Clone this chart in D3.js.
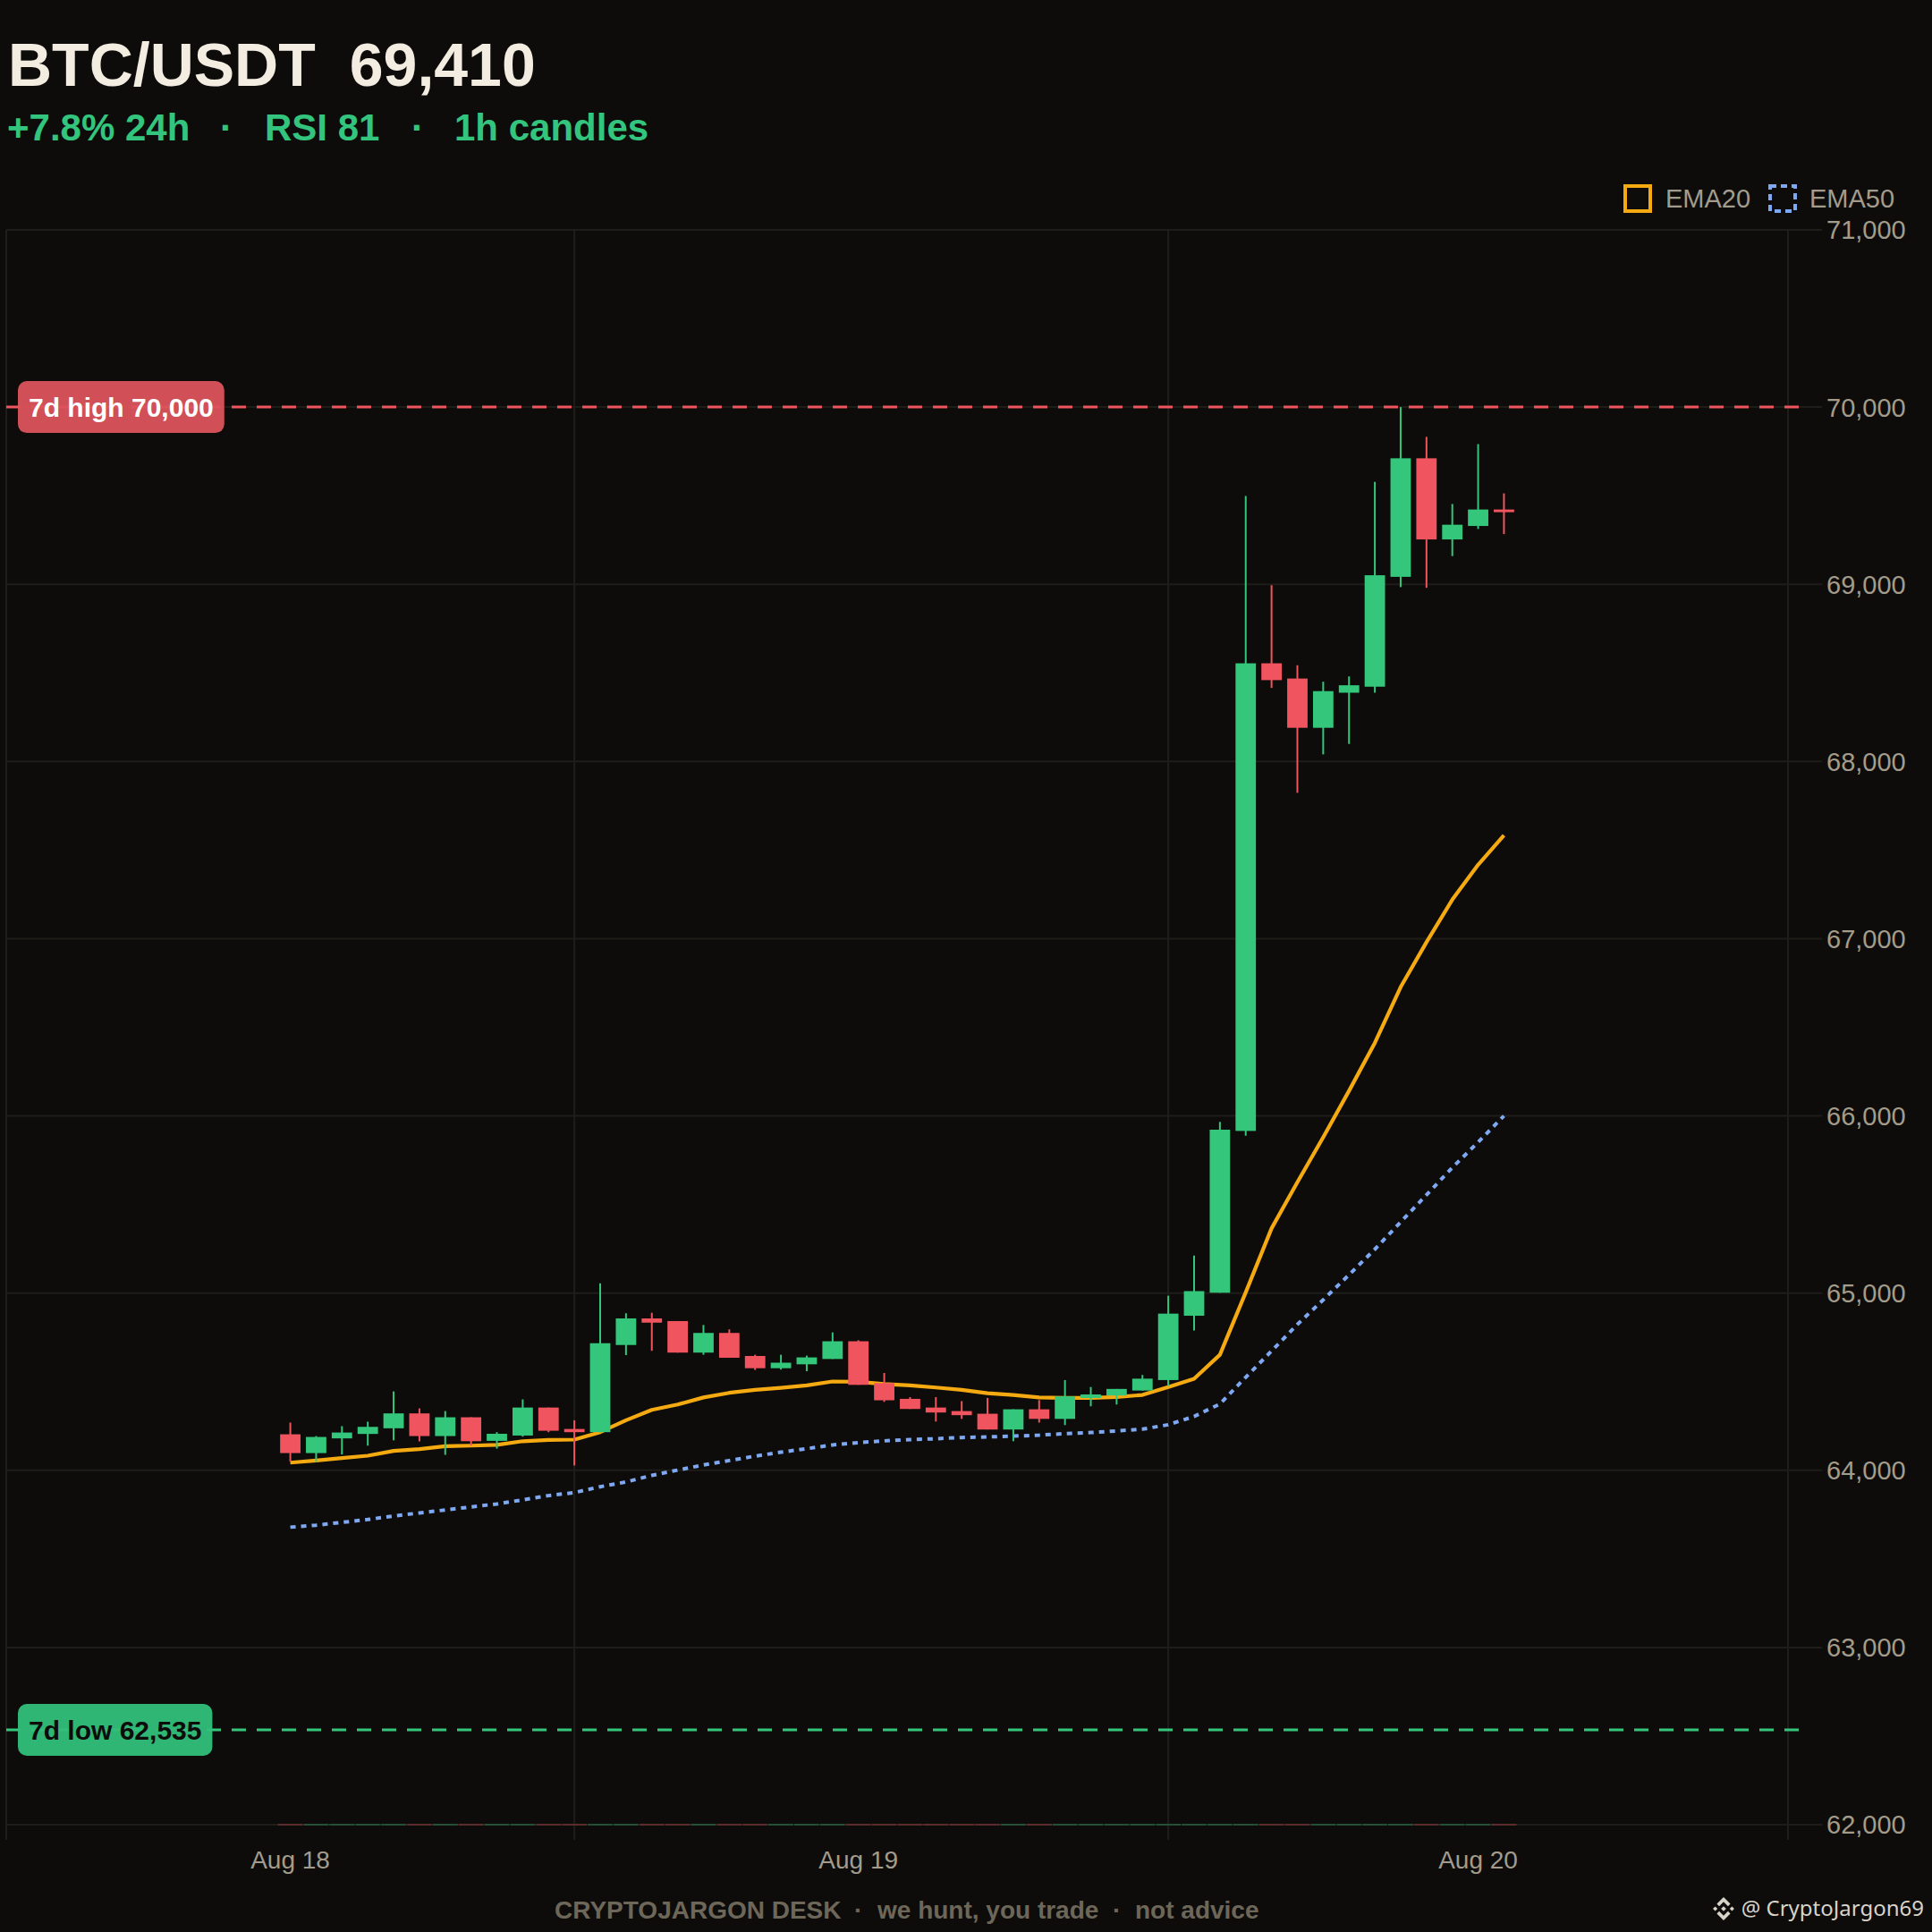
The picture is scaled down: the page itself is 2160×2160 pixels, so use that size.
<!DOCTYPE html>
<html lang="en">
<head>
    <meta charset="UTF-8">
    <title>BTC/USDT 1h</title>
    <style>
        html, body {
            margin: 0;
            padding: 0;
            background: #0d0c0a;
        }
        svg {
            display: block;
            font-family: 'Liberation Sans', Arial, sans-serif;
        }
    </style>
</head>
<body>
    <svg id="chart" width="2160" height="2160"></svg>

    <script src="https://d3js.org/d3.v7.min.js"></script>
    <script>
        // 1h candles, Aug 18 00:00 onwards
        const opens  = [64203, 64097, 64180, 64205, 64237, 64321, 64193, 64299, 64166, 64196, 64354, 64233,
                        64215, 64707, 64857, 64842, 64664, 64775, 64645, 64576, 64598, 64628, 64728, 64492,
                        64403, 64354, 64334, 64319, 64230, 64344, 64290, 64408, 64422, 64450, 64509, 64872,
                        65002, 65915, 68554, 68468, 68190, 68388, 68422, 69042, 69711, 69253, 69329, 69422];
        const highs  = [64269, 64193, 64249, 64274, 64445, 64349, 64334, 64299, 64215, 64400, 64354, 64282,
                        65055, 64886, 64889, 64842, 64820, 64795, 64652, 64652, 64647, 64778, 64734, 64549,
                        64413, 64413, 64390, 64408, 64344, 64396, 64509, 64470, 64459, 64538, 64985, 65211,
                        65966, 69498, 68995, 68543, 68450, 68480, 69578, 70000, 69832, 69453, 69791, 69513];
        const lows   = [64050, 64047, 64089, 64139, 64169, 64163, 64087, 64139, 64122, 64190, 64215, 64027,
                        64215, 64650, 64674, 64664, 64652, 64635, 64566, 64568, 64559, 64628, 64482, 64386,
                        64346, 64275, 64290, 64230, 64164, 64269, 64255, 64361, 64371, 64450, 64475, 64789,
                        65002, 65888, 68415, 67823, 68040, 68099, 68388, 68984, 68980, 69159, 69312, 69283];
        const closes = [64097, 64188, 64213, 64245, 64321, 64193, 64299, 64164, 64206, 64354, 64223, 64215,
                        64717, 64857, 64833, 64664, 64775, 64635, 64576, 64607, 64637, 64728, 64482, 64395,
                        64346, 64326, 64311, 64230, 64344, 64290, 64417, 64428, 64459, 64517, 64884, 65011,
                        65922, 68554, 68459, 68190, 68397, 68430, 69051, 69711, 69253, 69336, 69422, 69410];

        const ema20 = [64043, 64055, 64069, 64082, 64109, 64119, 64136, 64139, 64143, 64164, 64171, 64173,
                       64215, 64282, 64341, 64371, 64411, 64437, 64454, 64465, 64479, 64501, 64499, 64487,
                       64479, 64467, 64454, 64435, 64425, 64411, 64408, 64408, 64413, 64425, 64470, 64516,
                       64652, 65004, 65365, 65626, 65879, 66141, 66412, 66727, 66980, 67220, 67417, 67583];
        const ema50 = [63679, 63690, 63706, 63722, 63742, 63759, 63776, 63793, 63810, 63833, 63857, 63874,
                       63907, 63934, 63971, 64001, 64030, 64055, 64080, 64102, 64122, 64143, 64156, 64166,
                       64173, 64178, 64185, 64188, 64193, 64198, 64207, 64213, 64222, 64232, 64257, 64304,
                       64374, 64525, 64673, 64823, 64962, 65103, 65247, 65401, 65554, 65708, 65852, 66000];

        const xTickLabels = ['Aug 18', 'Aug 19', 'Aug 20'];
        const xTickIdx = [0, 22, 46];
        const xGridIdx = [-11, 11, 34, 58];
        const yTicks = [62000, 63000, 64000, 65000, 66000, 67000, 68000, 69000, 70000, 71000];

        const high7d = 70000;
        const low7d = 62535;

        const GREEN = '#34c77c';
        const RED = '#f0545e';
        const GRID = '#1f1d19';

        const svg = d3.select('#chart');

        svg.append('rect')
            .attr('width', 2160).attr('height', 2160)
            .attr('fill', '#0d0c0a');

        const x = d3.scaleLinear().domain([-11, 58]).range([7, 1999]);
        const y = d3.scaleLinear().domain([62000, 71000]).range([2040, 257]);
        const step = x(1) - x(0);
        const bodyW = step * 0.79;

        // grid
        const grid = svg.append('g');
        grid.selectAll('line.h')
            .data(yTicks)
            .join('line')
            .attr('class', 'h')
            .attr('x1', 7).attr('x2', 2037)
            .attr('y1', d => y(d)).attr('y2', d => y(d))
            .attr('stroke', GRID).attr('stroke-width', 2);
        grid.selectAll('line.v')
            .data(xGridIdx)
            .join('line')
            .attr('class', 'v')
            .attr('x1', d => x(d)).attr('x2', d => x(d))
            .attr('y1', 257).attr('y2', 2057)
            .attr('stroke', GRID).attr('stroke-width', 2);

        // y axis labels on the right
        svg.append('g')
            .selectAll('text')
            .data(yTicks)
            .join('text')
            .attr('x', 2042)
            .attr('y', d => y(d))
            .attr('dy', '0.36em')
            .attr('font-size', 29)
            .attr('fill', '#a39c8c')
            .text(d => d3.format(',')(d));

        // x axis labels
        svg.append('g')
            .selectAll('text')
            .data(xTickIdx)
            .join('text')
            .attr('x', d => x(d))
            .attr('y', 2089)
            .attr('text-anchor', 'middle')
            .attr('font-size', 28)
            .attr('fill', '#a39c8c')
            .text((d, i) => xTickLabels[i]);

        // faint direction strip along the bottom
        svg.append('g')
            .selectAll('rect')
            .data(closes)
            .join('rect')
            .attr('x', (d, i) => x(i) - step / 2 + 0.5)
            .attr('width', step - 1)
            .attr('y', y(62000) - 1)
            .attr('height', 2)
            .attr('fill', (d, i) => d >= opens[i] ? GREEN : RED)
            .attr('opacity', 0.3);

        // 7d high / low lines
        const levels = [
            { v: high7d, color: RED, fill: '#dc535b', text: '7d high ' + d3.format(',')(high7d), ink: '#ffffff' },
            { v: low7d, color: GREEN, fill: '#31bf7a', text: '7d low ' + d3.format(',')(low7d), ink: '#0d0c0a' }
        ];
        levels.forEach(l => {
            svg.append('line')
                .attr('x1', 7).attr('x2', 2012)
                .attr('y1', y(l.v)).attr('y2', y(l.v))
                .attr('stroke', l.color)
                .attr('stroke-width', 3)
                .attr('stroke-dasharray', '16 12');
        });

        // EMA lines
        const line = d3.line()
            .x((d, i) => x(i))
            .y(d => y(d));

        svg.append('path')
            .datum(ema50)
            .attr('d', line)
            .attr('fill', 'none')
            .attr('stroke', '#7ea8f2')
            .attr('stroke-width', 4)
            .attr('stroke-dasharray', '6 6');

        svg.append('path')
            .datum(ema20)
            .attr('d', line)
            .attr('fill', 'none')
            .attr('stroke', '#f5aa12')
            .attr('stroke-width', 4.2)
            .attr('stroke-linejoin', 'round');

        // candles
        const candles = svg.append('g')
            .selectAll('g')
            .data(opens.map((o, i) => ({ i, o, h: highs[i], l: lows[i], c: closes[i] })))
            .join('g');

        candles.append('line')
            .attr('x1', d => x(d.i)).attr('x2', d => x(d.i))
            .attr('y1', d => y(d.h)).attr('y2', d => y(d.l))
            .attr('stroke', d => d.c >= d.o ? GREEN : RED)
            .attr('stroke-width', 2);

        candles.append('rect')
            .attr('x', d => x(d.i) - bodyW / 2)
            .attr('width', bodyW)
            .attr('y', d => y(Math.max(d.o, d.c)))
            .attr('height', d => Math.max(Math.abs(y(d.o) - y(d.c)), 3))
            .attr('fill', d => d.c >= d.o ? GREEN : RED);

        // level badges
        levels.forEach(l => {
            const g = svg.append('g');
            const rect = g.append('rect')
                .attr('x', 20)
                .attr('y', y(l.v) - 29)
                .attr('height', 58)
                .attr('rx', 10)
                .attr('fill', l.fill)
                .attr('opacity', 0.95);
            const t = g.append('text')
                .attr('x', 32)
                .attr('y', y(l.v))
                .attr('dy', '0.36em')
                .attr('font-size', 30)
                .attr('font-weight', 'bold')
                .attr('fill', l.ink)
                .text(l.text);
            rect.attr('width', t.node().getComputedTextLength() + 24);
        });

        // legend
        const legend = svg.append('g');
        legend.append('rect')
            .attr('x', 1817).attr('y', 208).attr('width', 28).attr('height', 28)
            .attr('fill', 'none').attr('stroke', '#f5aa12').attr('stroke-width', 4);
        legend.append('text')
            .attr('x', 1862).attr('y', 222).attr('dy', '0.36em')
            .attr('font-size', 29).attr('fill', '#a39c8c')
            .text('EMA20');
        legend.append('rect')
            .attr('x', 1979).attr('y', 208).attr('width', 28).attr('height', 28)
            .attr('fill', 'none').attr('stroke', '#7ea8f2').attr('stroke-width', 4)
            .attr('stroke-dasharray', '7 5');
        legend.append('text')
            .attr('x', 2023).attr('y', 222).attr('dy', '0.36em')
            .attr('font-size', 29).attr('fill', '#a39c8c')
            .text('EMA50');

        // header
        const title = svg.append('text')
            .attr('x', 9).attr('y', 96)
            .attr('font-size', 68)
            .attr('font-weight', 'bold')
            .attr('fill', '#f2ece1');
        title.append('tspan').text('BTC/USDT');
        title.append('tspan').attr('dx', 38).text('69,410');

        const sub = svg.append('text')
            .attr('y', 157)
            .attr('font-size', 42)
            .attr('font-weight', 'bold')
            .attr('fill', '#33c47d');
        sub.append('tspan').attr('x', 8).text('+7.8% 24h');
        sub.append('tspan').attr('x', 246).text('·');
        sub.append('tspan').attr('x', 296).text('RSI 81');
        sub.append('tspan').attr('x', 460).text('·');
        sub.append('tspan').attr('x', 508).text('1h candles');

        // footer
        const foot = svg.append('text')
            .attr('y', 2145)
            .attr('font-size', 28)
            .attr('font-weight', 'bold')
            .attr('fill', '#6d6759');
        foot.append('tspan').attr('x', 620).text('CRYPTOJARGON DESK');
        foot.append('tspan').attr('x', 955).text('·');
        foot.append('tspan').attr('x', 981).text('we hunt, you trade');
        foot.append('tspan').attr('x', 1244).text('·');
        foot.append('tspan').attr('x', 1269).text('not advice');

        // watermark
        const mark = svg.append('g')
            .attr('transform', 'translate(1927,2134) scale(13)')
            .attr('fill', '#d8d3c8');
        mark.append('polygon').attr('points', '0,-0.22 0.22,0 0,0.22 -0.22,0');
        mark.append('polygon').attr('points', '-0.72,-0.2 -0.52,0 -0.72,0.2 -0.92,0');
        mark.append('polygon').attr('points', '0.72,-0.2 0.92,0 0.72,0.2 0.52,0');
        mark.append('polygon').attr('points', '0,-1 0.58,-0.42 0.38,-0.22 0,-0.6 -0.38,-0.22 -0.58,-0.42');
        mark.append('polygon').attr('points', '0,1 0.58,0.42 0.38,0.22 0,0.6 -0.38,0.22 -0.58,0.42');

        svg.append('text')
            .attr('x', 2151).attr('y', 2142)
            .attr('text-anchor', 'end')
            .attr('font-family', "'Noto Sans', sans-serif")
            .attr('font-size', 24)
            .attr('fill', '#d8d3c8')
            .text('@ CryptoJargon69');
    </script>
</body>
</html>
